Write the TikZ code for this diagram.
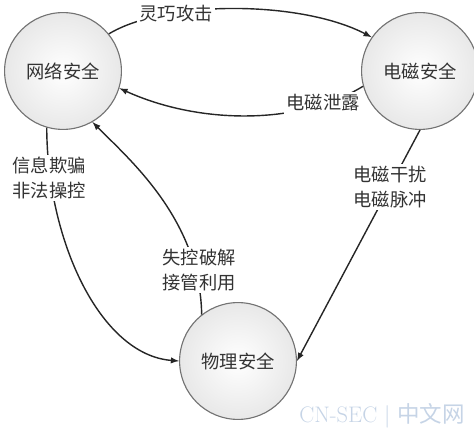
\documentclass[tikz,border=0pt]{standalone}
\usepackage{fontspec}
\newfontfamily\cjk{Noto Sans CJK SC}
\definecolor{wmark}{RGB}{198,212,230}
\begin{document}
\begin{tikzpicture}[x=0.025cm,y=-0.025cm]
\tikzstyle{zone}=[circle,draw=black!55,line width=0.8pt,inner sep=0pt,minimum size=2.92cm,inner color=white,outer color=black!9,font=\cjk\fontsize{13}{16}\selectfont,text=black!80]
\tikzstyle{threat}=[fill=white,inner sep=1.5pt,align=left,font=\cjk\fontsize{13}{17.8}\selectfont,text=black!80]
\tikzstyle{link}=[->,>=latex,line width=1pt,color=black!85]

\useasboundingbox (0,0) rectangle (474,432);

\node[zone] (network) at (63,71) {网络安全};
\node[zone] (emag) at (420,71) {电磁安全};
\node[zone] (physical) at (238,361) {物理安全};

\draw[link] (network.39) .. controls (165,0) and (300,0) .. (emag.145);
\draw[link] (emag.195) .. controls (300,125) and (200,125) .. (network.-17);
\draw[link] (network.-106) .. controls (47,240) and (100,355) .. (physical.west);
\draw[link] (physical.128) .. controls (200,220) and (130,160) .. (network.-60);
\draw[link] (emag.south) -- (physical.east);

\node[threat] (smart) at (176,14) {灵巧攻击};
\node[threat] (leak) at (323,103) {电磁泄露};
\node[threat] (spoof) at (49,178) {信息欺骗\\非法操控};
\node[threat] (crack) at (199,270) {失控破解\\接管利用};
\node[threat] (pulse) at (390,187) {电磁干扰\\电磁脉冲};

\node[text=wmark,font=\fontsize{16}{19}\selectfont] (mark) at (382,416) {CN-SEC \textbar{} {\cjk 中文网}};
\end{tikzpicture}
\end{document}
